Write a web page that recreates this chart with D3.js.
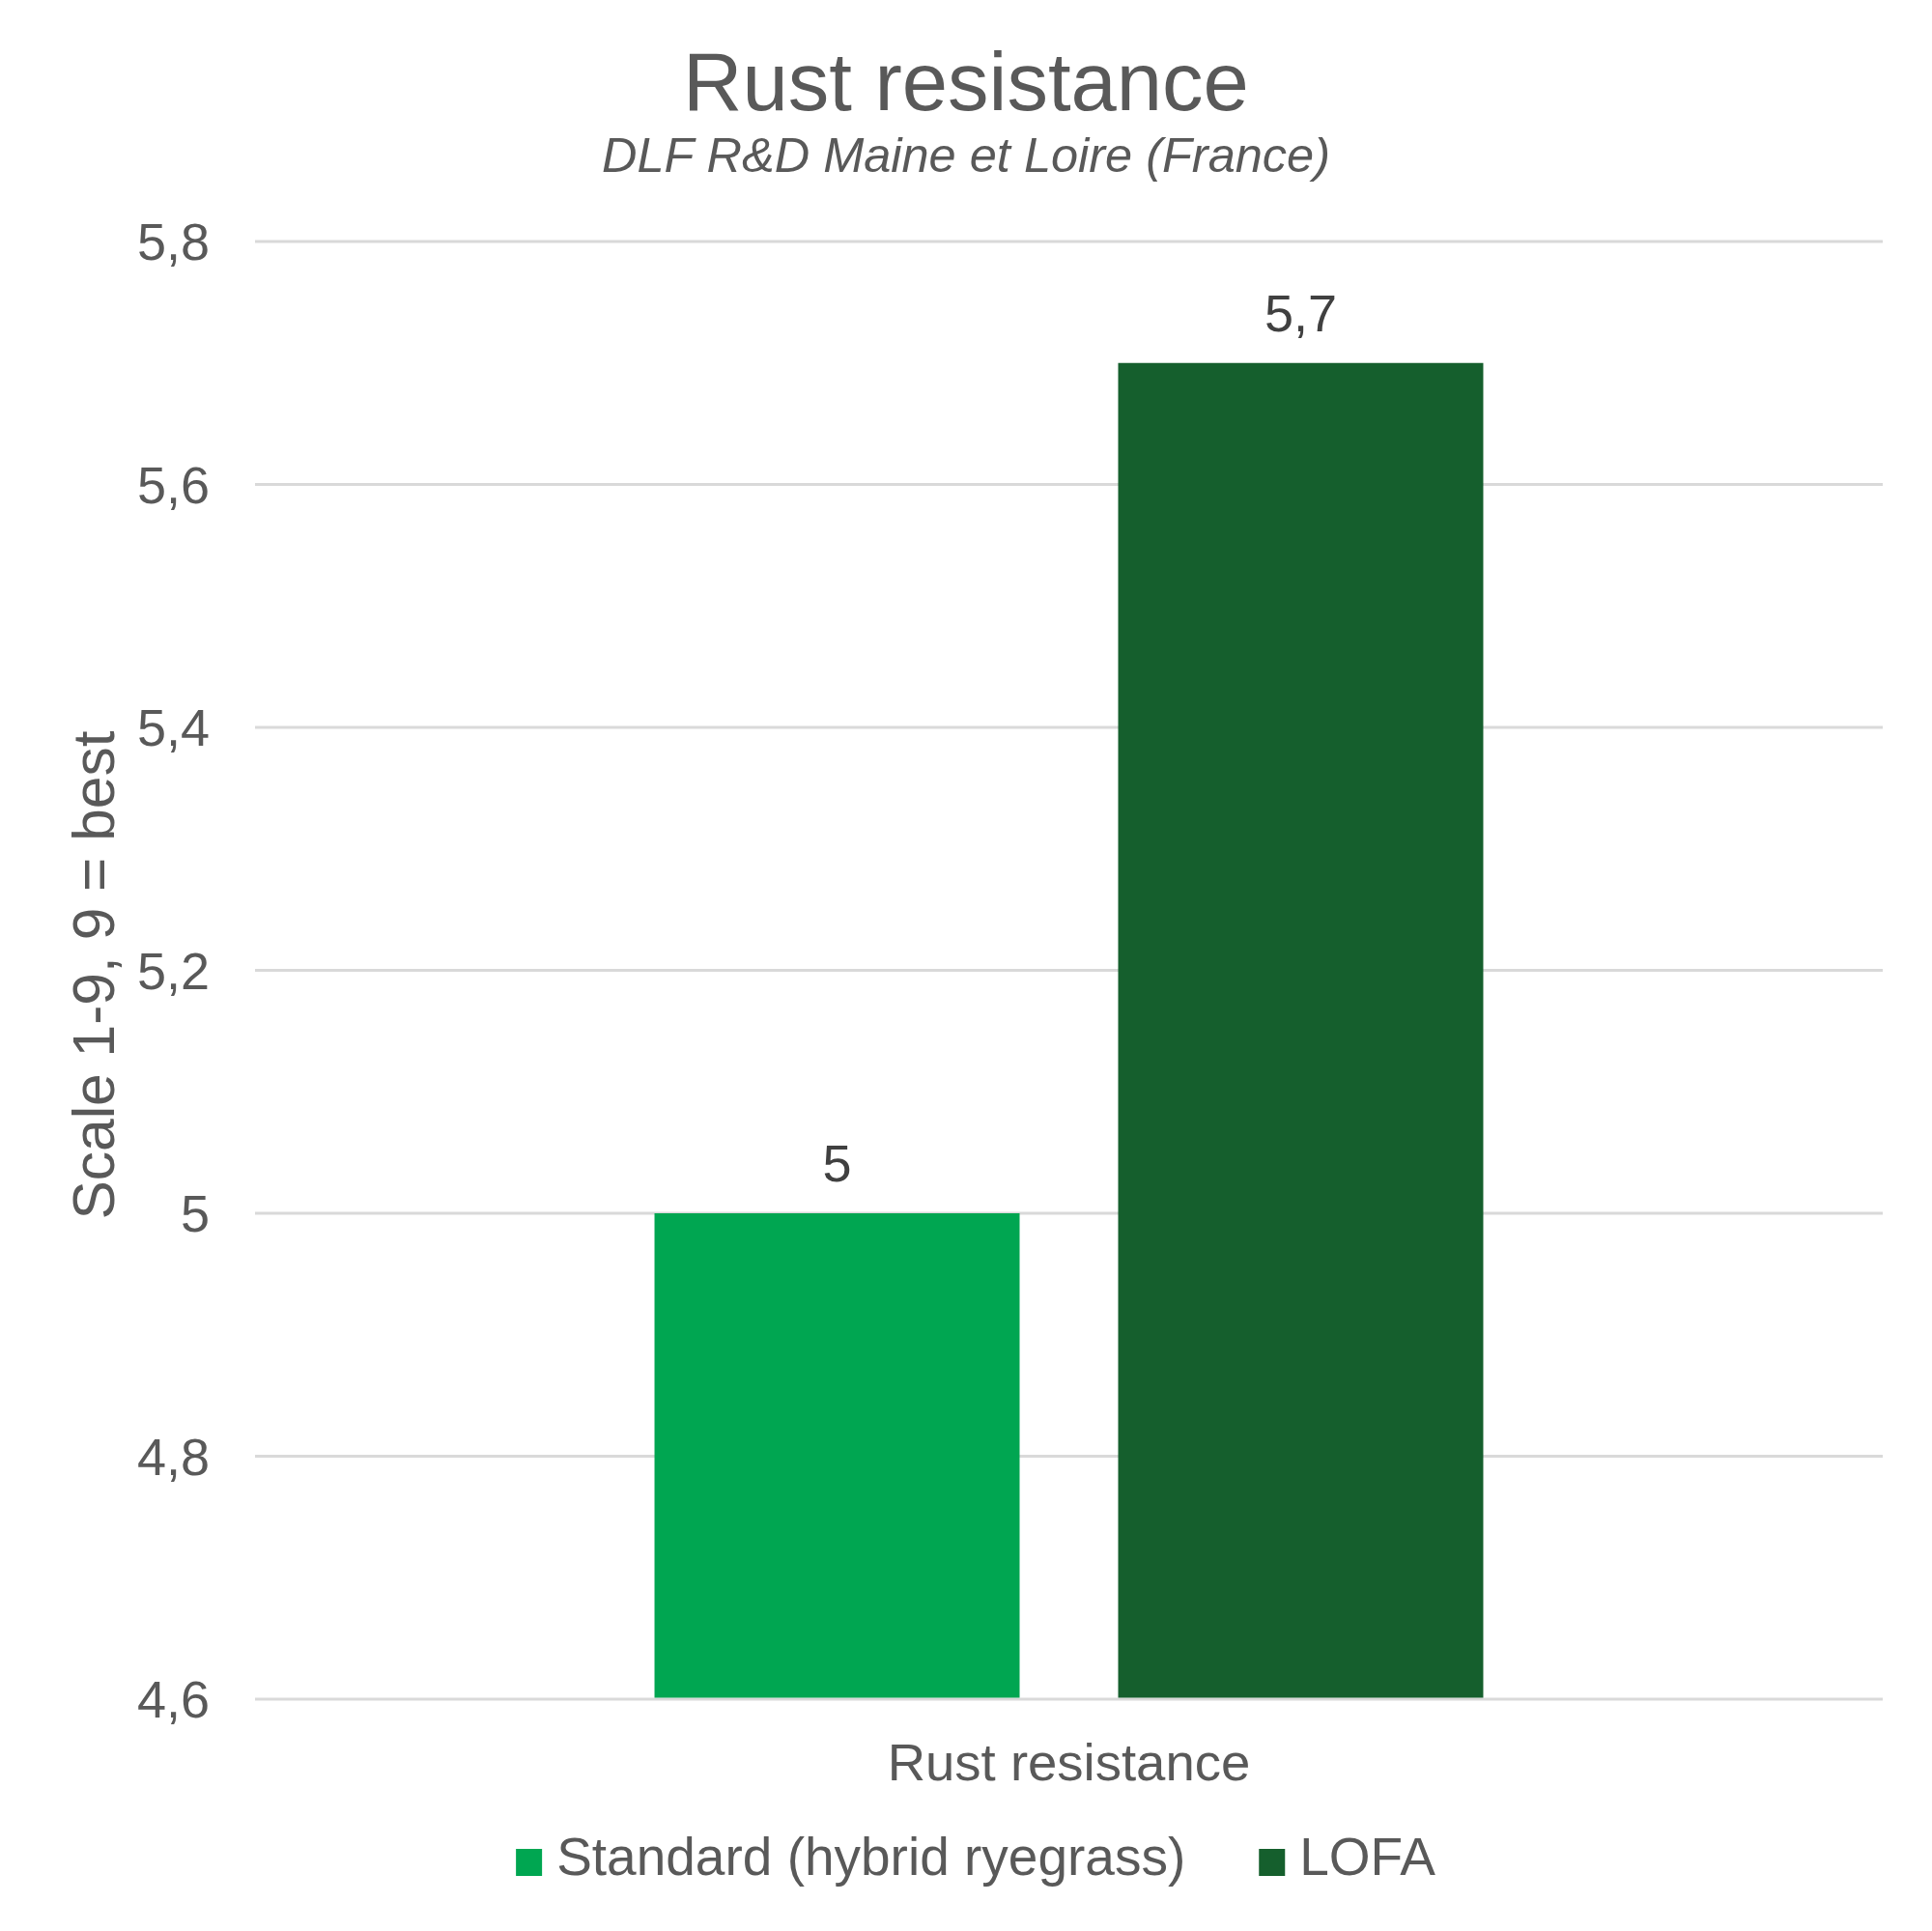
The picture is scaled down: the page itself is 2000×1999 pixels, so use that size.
<!DOCTYPE html>
<html>
<head>
<meta charset="utf-8">
<script src="https://cdn.jsdelivr.net/npm/d3@7"></script>
<style>
    body { margin: 0; background: #fff; }
    text { font-family: "Liberation Sans", Arial, sans-serif; }
</style>
</head>
<body>
<svg id="chart" width="2000" height="1999"></svg>
<script>
// data
let categories = ["Rust resistance"];
let seriesNames = ["Standard (hybrid ryegrass)", "LOFA"];
let seriesColors = ["#00A651", "#155F2D"];
let standardValues = [5];
let lofaValues = [5.7];
let yTicks = [4.6, 4.8, 5, 5.2, 5.4, 5.6, 5.8];

let svg = d3.select("#chart");
let grey = "#595959";

let plotLeft = 264, plotRight = 1949, plotTop = 250, plotBottom = 1759;

let y = d3.scaleLinear().domain([4.6, 5.8]).range([plotBottom, plotTop]);

let x0 = d3.scaleBand()
    .domain(categories)
    .range([plotLeft, plotRight])
    .paddingInner(0)
    .paddingOuter(0.482);

let x1 = d3.scaleBand()
    .domain(seriesNames)
    .range([0, x0.bandwidth()])
    .paddingInner(0.2125)
    .paddingOuter(0);

let fmt = v => String(v).replace(".", ",");

// gridlines
svg.append("g")
    .selectAll("line")
    .data(yTicks)
    .join("line")
    .attr("x1", plotLeft)
    .attr("x2", plotRight)
    .attr("y1", d => y(d))
    .attr("y2", d => y(d))
    .attr("stroke", "#D9D9D9")
    .attr("stroke-width", 3);

// y axis labels
let yAxis = svg.append("g")
    .attr("transform", "translate(" + (plotLeft - 47) + ",0)")
    .call(d3.axisLeft(y).tickValues(yTicks).tickSize(0).tickPadding(0).tickFormat(fmt));
yAxis.select(".domain").remove();
yAxis.selectAll("text")
    .attr("font-family", "Liberation Sans, Arial, sans-serif")
    .attr("font-size", 54)
    .attr("fill", grey)
    .attr("dy", "0.35em");

// bars
let rows = categories.map((c, i) => ({
    cat: c,
    vals: [standardValues[i], lofaValues[i]]
}));

rows.forEach(r => {
    let g = svg.append("g").attr("transform", "translate(" + x0(r.cat) + ",0)");
    r.vals.forEach((v, j) => {
        let name = seriesNames[j];
        g.append("rect")
            .attr("x", x1(name))
            .attr("y", y(v))
            .attr("width", x1.bandwidth())
            .attr("height", y(4.6) - y(v) - 1.5)
            .attr("fill", seriesColors[j]);
        g.append("text")
            .attr("x", x1(name) + x1.bandwidth() / 2)
            .attr("y", y(v) - 33)
            .attr("text-anchor", "middle")
            .attr("font-size", 54)
            .attr("fill", "#404040")
            .text(fmt(v));
    });
    // category label
    svg.append("text")
        .attr("x", x0(r.cat) + x0.bandwidth() / 2)
        .attr("y", 1843)
        .attr("text-anchor", "middle")
        .attr("font-size", 54.5)
        .attr("fill", grey)
        .text(r.cat);
});

// title
svg.append("text")
    .attr("x", 1000)
    .attr("y", 114)
    .attr("text-anchor", "middle")
    .attr("font-size", 85)
    .attr("fill", grey)
    .text("Rust resistance");

svg.append("text")
    .attr("x", 1000)
    .attr("y", 178)
    .attr("text-anchor", "middle")
    .attr("font-size", 50.5)
    .attr("font-style", "italic")
    .attr("fill", grey)
    .text("DLF R&D Maine et Loire (France)");

// y axis title
svg.append("text")
    .attr("transform", "translate(118," + ((plotTop + plotBottom) / 2 + 5) + ") rotate(-90)")
    .attr("text-anchor", "middle")
    .attr("font-size", 60.5)
    .attr("fill", grey)
    .text("Scale 1-9, 9 = best");

// legend
let legend = svg.append("g");
let cx = 0;
seriesNames.forEach((name, i) => {
    let item = legend.append("g");
    item.append("rect")
        .attr("x", 0)
        .attr("y", -27)
        .attr("width", 27)
        .attr("height", 28)
        .attr("fill", seriesColors[i]);
    let t = item.append("text")
        .attr("x", 42)
        .attr("y", 0)
        .attr("font-size", 55)
        .attr("fill", grey)
        .text(name);
    item.attr("transform", "translate(" + cx + ",0)");
    cx += 42 + t.node().getComputedTextLength() + 76;
});
let legendWidth = cx - 76;
legend.attr("transform", "translate(" + (1010 - legendWidth / 2) + ",1941)");
</script>
</body>
</html>
